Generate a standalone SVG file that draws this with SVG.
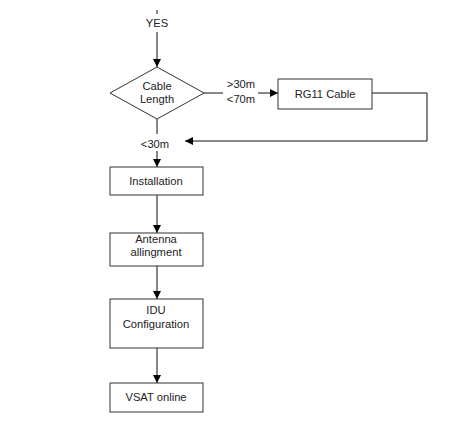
<svg xmlns="http://www.w3.org/2000/svg" width="474" height="434" viewBox="0 0 474 434">
<defs>
<marker id="ah" markerWidth="8" markerHeight="8" refX="8" refY="4" orient="auto" markerUnits="userSpaceOnUse">
<path d="M0,0 L8,4 L0,8 Z" fill="#000"/>
</marker>
<style>
.n{fill:#fff;stroke:#333;stroke-width:1}
.t{font-family:"Liberation Sans",Arial,sans-serif;font-size:11.2px;fill:#222;text-anchor:middle}
.c{fill:none;stroke:#111;stroke-width:1}
</style>
</defs>
<rect width="474" height="434" fill="#fff"/>
<g id="connectors">
<line class="c" x1="157" y1="10" x2="157" y2="14"/>
<line class="c" x1="157" y1="32" x2="157" y2="67" marker-end="url(#ah)"/>
<line class="c" x1="157" y1="119" x2="157" y2="134"/>
<line class="c" x1="157" y1="151" x2="157" y2="167" marker-end="url(#ah)"/>
<line class="c" x1="204" y1="93" x2="223" y2="93"/>
<line class="c" x1="258" y1="93" x2="278" y2="93" marker-end="url(#ah)"/>
<polyline class="c" points="372,93 427,93 427,141 185,141" marker-end="url(#ah)"/>
<line class="c" x1="157" y1="195" x2="157" y2="233" marker-end="url(#ah)"/>
<line class="c" x1="157" y1="266" x2="157" y2="299" marker-end="url(#ah)"/>
<line class="c" x1="157" y1="348" x2="157" y2="383" marker-end="url(#ah)"/>
<text class="t" x="157" y="27">YES</text>
<text class="t" x="155" y="148">&lt;30m</text>
<text class="t" x="241" y="88">&gt;30m</text>
<text class="t" x="241" y="103">&lt;70m</text>
</g>
<g id="cable-length">
<polygon class="n" points="157,67 204,93 157,119 110,93"/>
<text class="t" x="157" y="90">Cable</text>
<text class="t" x="157" y="103">Length</text>
</g>
<g id="rg11-cable">
<rect class="n" x="278" y="79" width="94" height="30"/>
<text class="t" x="325" y="98">RG11 Cable</text>
</g>
<g id="installation">
<rect class="n" x="110" y="167" width="93" height="28"/>
<text class="t" x="156" y="185">Installation</text>
</g>
<g id="antenna">
<rect class="n" x="110" y="233" width="93" height="33"/>
<text class="t" x="156" y="243">Antenna</text>
<text class="t" x="156" y="256">allingment</text>
</g>
<g id="idu">
<rect class="n" x="110" y="299" width="93" height="49"/>
<text class="t" x="156" y="314">IDU</text>
<text class="t" x="156" y="328">Configuration</text>
</g>
<g id="vsat">
<rect class="n" x="110" y="383" width="93" height="29"/>
<text class="t" x="156" y="401">VSAT online</text>
</g>
</svg>
